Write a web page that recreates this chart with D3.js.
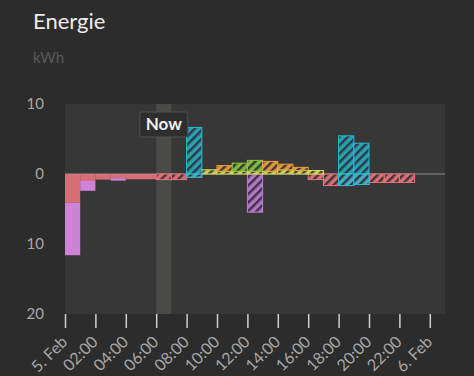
<!DOCTYPE html>
<html>
<head>
<meta charset="utf-8">
<script src="https://cdn.jsdelivr.net/npm/d3@7"></script>
<style>
  body { margin: 0; background: #2c2c2c; }
  svg { display: block; font-family: Lato, "Open Sans", sans-serif; }
</style>
</head>
<body>
<div id="chart"></div>
<script>
var svgWidth = 474;
var svgHeight = 376;

// hourly buckets, 5. Feb 00:00 .. 23:00
var hours = d3.range(24);
var nowHour = 6; // bars from here on are forecast (hatched)

// kWh per hour
var gridOut   = [-4.1, -1.0, -0.8, -0.6, -0.75, -0.75, -0.8, -0.8, -0.45, 0, 0, 0, 0, 0, 0, 0, -0.8, -1.65, -1.65, -1.5, -1.2, -1.2, -1.2, 0];
var otherOut  = [-7.5, -1.4, 0, -0.35, 0, 0, 0, 0, 0, 0, 0, 0, 0, 0, 0, 0, 0, 0, 0, 0, 0, 0, 0, 0];
var purpleOut = [0, 0, 0, 0, 0, 0, 0, 0, 0, 0, 0, 0, -5.45, 0, 0, 0, 0, 0, 0, 0, 0, 0, 0, 0];
var batteryIn = [0, 0, 0, 0, 0, 0, 0, 0, 6.65, 0, 0, 0, 0, 0, 0, 0, 0, 0, 5.45, 4.4, 0, 0, 0, 0];
var batteryOut= [0, 0, 0, 0, 0, 0, 0, 0, -0.45, 0, 0, 0, 0, 0, 0, 0, 0, 0, -1.65, -1.5, 0, 0, 0, 0];
var solar     = [0, 0, 0, 0, 0, 0, 0, 0, 0, 0.6, 0.4, 0.4, 0.4, 0.4, 0.6, 0.5, 0.5, 0, 0, 0, 0, 0, 0, 0];
var orangeIn  = [0, 0, 0, 0, 0, 0, 0, 0, 0, 0, 0.8, 0, 0, 1.4, 0.8, 0.45, 0, 0, 0, 0, 0, 0, 0, 0];
var greenIn   = [0, 0, 0, 0, 0, 0, 0, 0, 0, 0, 0, 1.15, 1.55, 0, 0, 0, 0, 0, 0, 0, 0, 0, 0, 0];

var yTicks = [-20, -10, 0, 10];

var colors = {
  grid: "#e8767c",
  other: "#e08ce8",
  purple: "#c27ed8",
  battery: "#27bdd6",
  solar: "#d6dc5c",
  orange: "#eea23e",
  green: "#8cc640"
};

var margin = { top: 104, right: 29, bottom: 62, left: 65 };
var width = svgWidth - margin.left - margin.right;
var height = svgHeight - margin.top - margin.bottom;

var svg = d3.select("#chart")
  .append("svg")
  .attr("width", svgWidth)
  .attr("height", svgHeight);

// stripe patterns for forecast bars
var defs = svg.append("defs");
Object.keys(colors).forEach(function(k) {
  var p = defs.append("pattern")
    .attr("id", "hatch-" + k)
    .attr("patternUnits", "userSpaceOnUse")
    .attr("width", 6)
    .attr("height", 6)
    .attr("patternTransform", "rotate(45)");
  p.append("rect").attr("width", 6).attr("height", 6).attr("fill", colors[k]);
  p.append("rect").attr("width", 2.5).attr("height", 6).attr("fill", "#2a2430").attr("opacity", 0.85);
});

// title
svg.append("text")
  .attr("x", 33).attr("y", 29)
  .attr("fill", "#ececec")
  .attr("font-size", 22)
  .text("Energie");

svg.append("text")
  .attr("x", 33).attr("y", 63)
  .attr("fill", "#595959")
  .attr("font-size", 15)
  .text("kWh");

var chartGroup = svg.append("g")
  .attr("transform", `translate(${margin.left}, ${margin.top})`);

var start = new Date(2024, 1, 5, 0, 0);
var end = new Date(2024, 1, 6, 1, 0);
var xScale = d3.scaleTime().domain([start, end]).range([0, width]);
var yScale = d3.scaleLinear().domain([-20, 10]).range([height, 0]);
var hourDate = h => d3.timeHour.offset(start, h);

// plot background
chartGroup.append("rect")
  .attr("width", width).attr("height", height)
  .attr("fill", "#373737");

// now band
chartGroup.append("rect")
  .attr("x", xScale(hourDate(nowHour)))
  .attr("width", xScale(hourDate(nowHour + 1)) - xScale(hourDate(nowHour)))
  .attr("height", height)
  .attr("fill", "#4b4a46");

// zero line
chartGroup.append("line")
  .attr("x1", 0).attr("x2", width)
  .attr("y1", yScale(0)).attr("y2", yScale(0))
  .attr("stroke", "#8c8c8c").attr("stroke-width", 1);

// build bar segments (stacked within each direction)
var segments = [];
function stack(list) {
  hours.forEach(function(h) {
    var base = 0;
    list.forEach(function(s) {
      var v = s.values[h];
      if (!v) return;
      segments.push({ h: h, key: s.key, y0: base, y1: base + v });
      base += v;
    });
  });
}
stack([{ key: "grid", values: gridOut }, { key: "other", values: otherOut }]);
stack([{ key: "purple", values: purpleOut }]);
stack([{ key: "solar", values: solar }, { key: "orange", values: orangeIn }, { key: "green", values: greenIn }]);
// battery bars overlap the grid bars, drawn on top with some transparency
stack([{ key: "battery", values: batteryIn }]);
stack([{ key: "battery", values: batteryOut }]);

chartGroup.selectAll("rect.bar")
  .data(segments)
  .enter()
  .append("rect")
  .attr("class", "bar")
  .attr("x", d => xScale(hourDate(d.h)))
  .attr("width", d => xScale(hourDate(d.h + 1)) - xScale(hourDate(d.h)))
  .attr("y", d => yScale(Math.max(d.y0, d.y1)))
  .attr("height", d => Math.abs(yScale(d.y0) - yScale(d.y1)))
  .attr("fill", d => d.h >= nowHour ? `url(#hatch-${d.key})` : colors[d.key])
  .attr("fill-opacity", d => d.key === "battery" ? 0.8 : 0.9)
  .attr("stroke", d => d.h >= nowHour ? colors[d.key] : "none")
  .attr("stroke-width", 1);

// y axis
var leftAxis = d3.axisLeft(yScale)
  .tickValues(yTicks)
  .tickSize(0)
  .tickPadding(21)
  .tickFormat(d => Math.abs(d));

var yAxis = chartGroup.append("g").call(leftAxis);
yAxis.select(".domain").remove();
yAxis.selectAll("text")
  .attr("fill", "#a8a8a8")
  .attr("font-size", 15)
  .attr("font-family", "Lato, 'Open Sans', sans-serif");

// x axis
var bottomAxis = d3.axisBottom(xScale)
  .ticks(d3.timeHour.every(2))
  .tickSize(14)
  .tickFormat(d => d.getHours() === 0 ? d3.timeFormat("%-d. %b")(d) : d3.timeFormat("%H:%M")(d));

var xAxis = chartGroup.append("g")
  .attr("transform", `translate(0, ${height})`)
  .call(bottomAxis);
xAxis.select(".domain").remove();
xAxis.selectAll(".tick line")
  .attr("stroke", "#d0d0d0")
  .attr("stroke-width", 1.5);
xAxis.selectAll("text")
  .attr("fill", "#a8a8a8")
  .attr("font-size", 16)
  .attr("font-family", "Lato, 'Open Sans', sans-serif")
  .attr("text-anchor", "end")
  .attr("x", 0)
  .attr("y", 0)
  .attr("dy", "0.35em")
  .attr("transform", "translate(-1, 25) rotate(-45)");

// "Now" label
var nowX = xScale(hourDate(nowHour)) + (xScale(hourDate(nowHour + 1)) - xScale(hourDate(nowHour))) / 2;
var nowLabel = chartGroup.append("g")
  .attr("transform", `translate(${nowX}, 8)`);
nowLabel.append("rect")
  .attr("x", -24).attr("y", 0)
  .attr("width", 48).attr("height", 25)
  .attr("rx", 2)
  .attr("fill", "#2e2e2e")
  .attr("stroke", "#505050");
nowLabel.append("text")
  .attr("y", 18)
  .attr("text-anchor", "middle")
  .attr("fill", "#f0f0f0")
  .attr("font-size", 17)
  .attr("font-weight", "bold")
  .text("Now");
</script>
</body>
</html>
